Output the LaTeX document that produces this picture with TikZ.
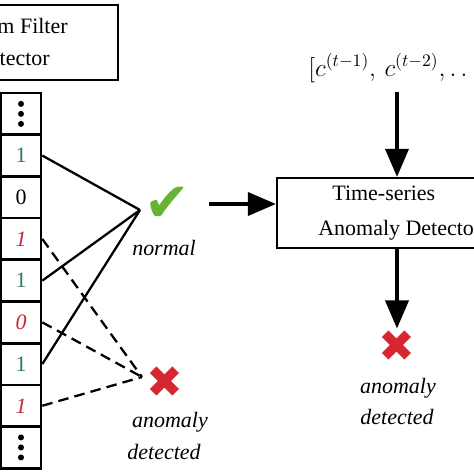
\documentclass[tikz,border=0pt]{standalone}
\usepackage{fontspec}
\setmainfont{Liberation Serif}
\newfontfamily\symfont{DejaVu Sans}
\usetikzlibrary{arrows.meta,positioning}
\definecolor{okgreen}{RGB}{104,178,52}
\definecolor{badred}{RGB}{214,38,48}
\definecolor{bitgreen}{RGB}{46,122,92}
\definecolor{bitred}{RGB}{192,40,52}

\begin{document}
\begin{tikzpicture}[
    x=0.02cm,y=-0.02cm,
    box/.style={draw,line width=1.3pt,inner sep=0pt},
    cell/.style={draw,line width=1.5pt,minimum width=0.8cm,minimum height=0.834cm,inner sep=0pt,font=\fontsize{12.5}{14}\selectfont},
    txt/.style={font=\fontsize{12.5}{14}\selectfont,inner sep=0pt},
    lbl/.style={font=\fontsize{12.5}{14}\selectfont\itshape,inner sep=0pt},
    okmark/.style={text=okgreen,font=\symfont\fontsize{31}{31}\selectfont,inner sep=0pt},
    badmark/.style={text=badred,font=\symfont\fontsize{25}{25}\selectfont,inner sep=0pt},
    link/.style={line width=1.3pt},
    vote/.style={link,dash pattern=on 6pt off 3.5pt},
    bigarrow/.style={line width=2.4pt,-{Triangle[length=16pt,width=13pt]}},
]
\useasboundingbox (0,0) rectangle (474,474);
\clip (0,0) rectangle (474,474);
\node[box,minimum width=2.76cm,minimum height=1.5cm](bf)at(49,42.5){};
\node[txt,anchor=base east]at(68,33){m Filter};
\node[txt,anchor=base east]at(50,65){tector};
\foreach \v/\c [count=\i] in {{}/black,1/bitgreen,0/black,\textit{1}/bitred,1/bitgreen,\textit{0}/bitred,1/bitgreen,\textit{1}/bitred,{}/black}
    \node[cell,text=\c](c\i)at(21,72.15+41.7*\i){\v};
\foreach \d in {-10,0,10}{
    \fill ([yshift=\d*0.02cm]c1.center) circle (3);
    \fill ([yshift=\d*0.02cm]c9.center) circle (3);
}
\coordinate(vn)at(140,210);
\coordinate(va)at(142,377);
\foreach \i in {2,5,7} \draw[link](c\i.east)--(vn);
\foreach \i in {4,6,8} \draw[vote](c\i.east)--(va);
\node[okmark](ok)at(167,204){✔};
\node[lbl]at(164,248){normal};
\node[badmark](bad)at(165,382){✖};
\node[lbl]at(170,422){anomaly};
\node[lbl]at(164,452){detected};
\node[box,minimum width=5cm,minimum height=1.4cm,anchor=north west](tsad)at(276,177){};
\node[txt,anchor=base west]at(332,200){Time-series};
\node[txt,anchor=base west]at(318,235){Anomaly Detector};
\node[txt,font=\fontsize{14.5}{16}\selectfont,anchor=base west](hist)at(308,76){$[c^{(t-1)},\, c^{(t-2)},\ldots$};
\coordinate(top)at(397,92);
\node[badmark](bad2)at(397,346){✖};
\node[lbl]at(398,388){anomaly};
\node[lbl]at(397,417){detected};
\draw[bigarrow](top)--(top|-tsad.north);
\draw[bigarrow,shorten >=1pt](tsad.south-|bad2)--(bad2.north);
\draw[bigarrow,shorten <=11pt](ok.east)--(ok.east-|tsad.west);
\end{tikzpicture}
\end{document}
